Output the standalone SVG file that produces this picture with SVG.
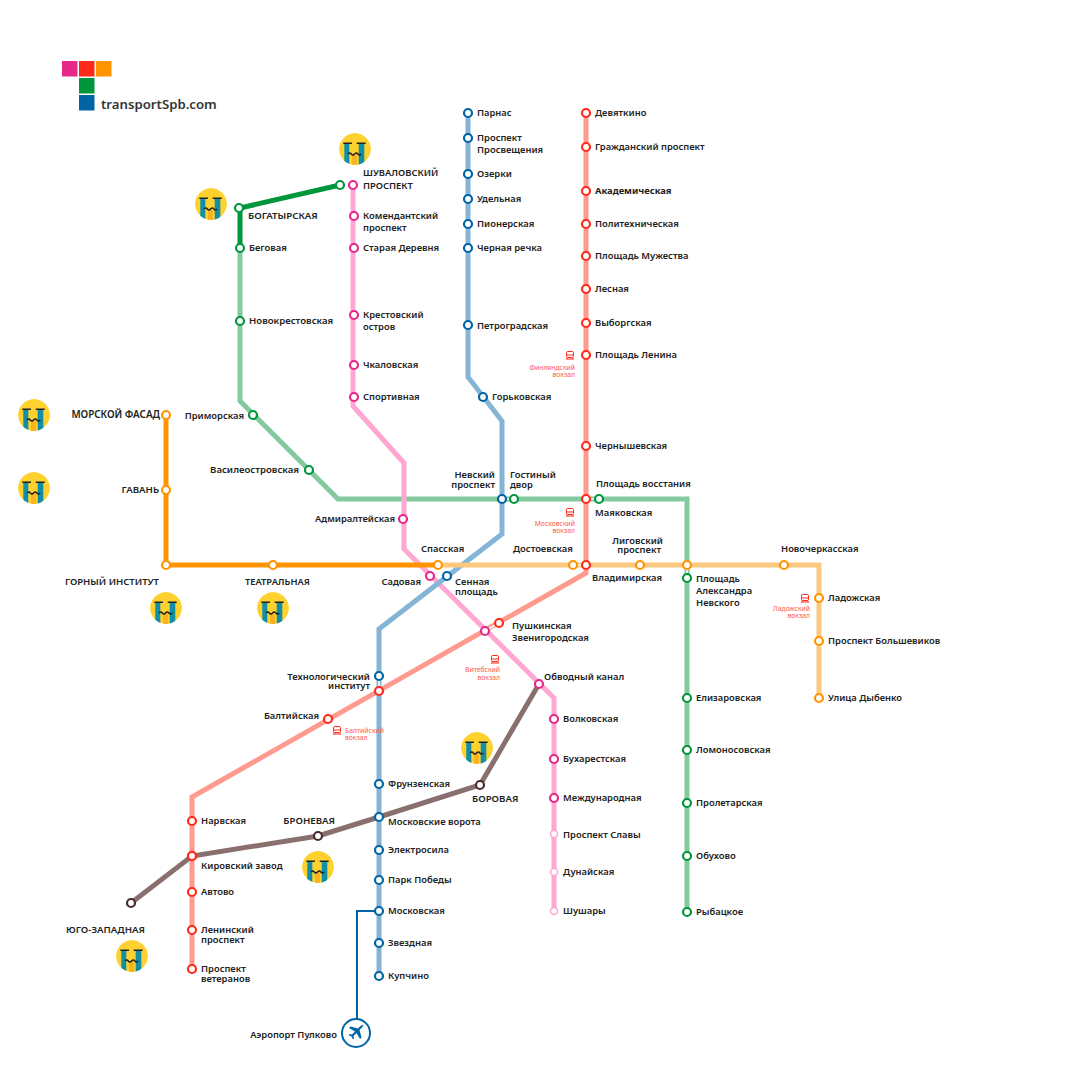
<svg xmlns="http://www.w3.org/2000/svg" width="1080" height="1080" viewBox="0 0 1080 1080">
<style>
text{font-family:"Noto Sans","Open Sans","Liberation Sans",sans-serif;font-size:9.400px;font-weight:600;fill:#222}
.u{font-size:9.700px}
.v{font-size:6.800px;font-weight:400;fill:#ff5a4a;text-anchor:end}
.e{text-anchor:end}
.line{fill:none;stroke-width:5;stroke-linejoin:miter}
circle.s{fill:#fff;stroke-width:2.200}
.g circle.s{stroke:#00963c}.p circle.s{stroke:#e5288a}.b circle.s{stroke:#0064a4}.r circle.s{stroke:#ff2a1a}.o circle.s{stroke:#ff9400}.k circle.s{stroke:#4a2c2c}.q circle.s{stroke:#ffa6d3}
.t{stroke:#fff;stroke-width:1.600;fill:none}
</style>
<defs>
<clipPath id="face"><circle r="16"/></clipPath>
<symbol id="cry" viewBox="-16 -16 32 32" overflow="visible">
<g clip-path="url(#face)">
<circle r="16" fill="#ffd12e"/>
<path d="M-7-16A16 16 0 0 0-7 16H-16V-16Z" fill="#f9b31f"/>
<rect x="-3" y="6" width="5" height="10" fill="#f9b31f"/>
<rect x="-10.700" y="-6" width="5" height="22" fill="#0f8fa8"/>
<rect x="3.700" y="-6" width="5.600" height="22" fill="#0f8fa8"/>
<path d="M-11.700-5.800H-3M1.700-5.800H10.700" stroke="#222" stroke-width="1.400" fill="none"/>
<path d="M-7 5q1.800-2 3.300 0t3.300 0t3.300 0t3.300 0" stroke="#222" stroke-width="1.500" fill="none"/>
</g>
</symbol>
<symbol id="train" viewBox="0 0 8 9" overflow="visible">
<rect x=".5" y=".5" width="7" height="6" rx="1.200" fill="none" stroke="#ff2a1a" stroke-width="1"/>
<path d="M.5 4H7.500" stroke="#ff2a1a" stroke-width="1"/>
<path d="M1.500 6.500L.5 8.500M6.500 6.500L7.500 8.500M.5 8H7.500" stroke="#ff2a1a" stroke-width="1" fill="none"/>
</symbol>
</defs>
<rect width="1080" height="1080" fill="#fff"/>
<g id="logo">
<rect x="62" y="61" width="15.500" height="15.500" fill="#e5288a"/>
<rect x="79" y="61" width="15.500" height="15.500" fill="#ff2a1a"/>
<rect x="96" y="61" width="15.500" height="15.500" fill="#ff9400"/>
<rect x="79" y="78" width="15.500" height="15.500" fill="#00963c"/>
<rect x="79" y="95" width="15.500" height="15.500" fill="#0064a4"/>
<text x="101" y="109" style="font-size:13.200px;fill:#333">transportSpb.com</text>
</g>
<g id="connectors">
<polyline class="line" stroke="#85c99e" points="240,248 240,401 338,499 687,499 687,912"/>
<polyline class="line" stroke="#00963c" points="240,248 240,208 340,185"/>
<polyline class="line" stroke="#ffa6d3" points="353,185 353,406 404,463 404,549 554,698 554,911"/>
<polyline class="line" stroke="#84b4d6" points="468,113 468,377 502,421 502,534 379,629 379,976"/>
<polyline class="line" stroke="#ff9a8e" points="586,113 586,573 192,797 192,969"/>
<polyline class="line" stroke="#ff9400" points="166,415 166,565 438,565"/>
<polyline class="line" stroke="#ffc87f" points="438,565 819,565 819,698"/>
<polyline class="line" stroke="#8a6f6f" points="131,903 192,856 318,836 379,817 480,785 539,684"/>
<polyline fill="none" stroke="#0064a4" stroke-width="2" points="379,911 357,911 357,1019"/>
<path class="t" d="M502 499H514M586 499H599M574 565H586M438 565L430 576M438 565L447 576M430 576H447M485 631L499 623M379 676V691M687 565V578"/>
</g>
<g id="cry-icons">
<use href="#cry" x="195" y="188" width="32" height="32"/>
<use href="#cry" x="339" y="133" width="32" height="32"/>
<use href="#cry" x="18" y="399" width="32" height="32"/>
<use href="#cry" x="18" y="472" width="32" height="32"/>
<use href="#cry" x="150" y="592" width="32" height="32"/>
<use href="#cry" x="257" y="592" width="32" height="32"/>
<use href="#cry" x="461" y="732" width="32" height="32"/>
<use href="#cry" x="302" y="851" width="32" height="32"/>
<use href="#cry" x="116" y="940" width="32" height="32"/>
</g>
<g id="green-line" class="g">
<g id="n-bogatyrskaya"><circle class="s" cx="239" cy="208" r="4"/><text class="u" x="248" y="219">БОГАТЫРСКАЯ</text></g>
<g id="n-shuv-g"><circle class="s" cx="340" cy="185" r="4"/></g>
<g id="n-begovaya"><circle class="s" cx="240" cy="248" r="4"/><text x="249" y="251">Беговая</text></g>
<g id="n-novokrest"><circle class="s" cx="240" cy="321" r="4"/><text x="249" y="324" style="font-size:9.600px">Новокрестовская</text></g>
<g id="n-primorskaya"><circle class="s" cx="253" cy="415" r="4"/><text class="e" x="244" y="419">Приморская</text></g>
<g id="n-vasileo"><circle class="s" cx="309" cy="470" r="4"/><text class="e" x="299" y="473" style="font-size:9.600px">Василеостровская</text></g>
<g id="n-gostiny"><circle class="s" cx="514" cy="499" r="4"/><text x="510" y="478">Гостиный</text><text x="510" y="488">двор</text></g>
<g id="n-mayak"><circle class="s" cx="599" cy="499" r="4"/><text x="595" y="516">Маяковская</text></g>
<g id="n-alnev-g"><circle class="s" cx="687" cy="578" r="4"/><text x="696" y="582">Площадь</text><text x="696" y="594">Александра</text><text x="696" y="606">Невского</text></g>
<g id="n-elizar"><circle class="s" cx="687" cy="698" r="4"/><text x="696" y="701">Елизаровская</text></g>
<g id="n-lomon"><circle class="s" cx="687" cy="750" r="4"/><text x="696" y="753">Ломоносовская</text></g>
<g id="n-prolet"><circle class="s" cx="687" cy="803" r="4"/><text x="696" y="806">Пролетарская</text></g>
<g id="n-obukhovo"><circle class="s" cx="687" cy="856" r="4"/><text x="696" y="859">Обухово</text></g>
<g id="n-rybatskoe"><circle class="s" cx="687" cy="912" r="4"/><text x="696" y="915">Рыбацкое</text></g>
</g>
<g id="pink-line" class="p">
<g id="n-shuv"><circle class="s" cx="353" cy="185" r="4"/><text x="363" y="176">ШУВАЛОВСКИЙ</text><text x="363" y="189">ПРОСПЕКТ</text></g>
<g id="n-komend"><circle class="s" cx="354" cy="216" r="4"/><text x="363" y="219">Комендантский</text><text x="363" y="231">проспект</text></g>
<g id="n-staraya"><circle class="s" cx="354" cy="248" r="4"/><text x="363" y="251">Старая Деревня</text></g>
<g id="n-krest"><circle class="s" cx="354" cy="315" r="4"/><text x="363" y="318">Крестовский</text><text x="363" y="330">остров</text></g>
<g id="n-chkal"><circle class="s" cx="354" cy="365" r="4"/><text x="363" y="368">Чкаловская</text></g>
<g id="n-sport"><circle class="s" cx="354" cy="397" r="4"/><text x="363" y="400">Спортивная</text></g>
<g id="n-admir"><circle class="s" cx="403" cy="519" r="4"/><text class="e" x="395" y="522">Адмиралтейская</text></g>
<g id="n-sadovaya"><circle class="s" cx="430" cy="576" r="4"/><text class="e" x="421" y="585">Садовая</text></g>
<g id="n-zvenig"><circle class="s" cx="485" cy="631" r="4"/><text x="512" y="641">Звенигородская</text></g>
<g id="n-obvod"><circle class="s" cx="539" cy="684" r="4"/><text x="544" y="680">Обводный канал</text></g>
<g id="n-volk"><circle class="s" cx="554" cy="719" r="4"/><text x="563" y="722">Волковская</text></g>
<g id="n-bukh"><circle class="s" cx="554" cy="759" r="4"/><text x="563" y="762">Бухарестская</text></g>
<g id="n-mezh"><circle class="s" cx="554" cy="798" r="4"/><text x="563" y="801">Международная</text></g>
</g>
<g id="pink-planned" class="q">
<g id="n-slavy"><circle class="s" cx="554" cy="834" r="3.500" style="stroke-width:1.500"/><text x="563" y="838">Проспект Славы</text></g>
<g id="n-dunay"><circle class="s" cx="554" cy="872" r="3.500" style="stroke-width:1.500"/><text x="563" y="875">Дунайская</text></g>
<g id="n-shushary"><circle class="s" cx="554" cy="911" r="3.500" style="stroke-width:1.500"/><text x="563" y="914">Шушары</text></g>
</g>
<g id="blue-line" class="b">
<g id="n-parnas"><circle class="s" cx="468" cy="113" r="4"/><text x="477" y="116">Парнас</text></g>
<g id="n-prosv"><circle class="s" cx="468" cy="138" r="4"/><text x="477" y="141">Проспект</text><text x="477" y="153">Просвещения</text></g>
<g id="n-ozerki"><circle class="s" cx="468" cy="174" r="4"/><text x="477" y="177">Озерки</text></g>
<g id="n-udel"><circle class="s" cx="468" cy="199" r="4"/><text x="477" y="202">Удельная</text></g>
<g id="n-pion"><circle class="s" cx="468" cy="224" r="4"/><text x="477" y="227">Пионерская</text></g>
<g id="n-chern"><circle class="s" cx="468" cy="248" r="4"/><text x="477" y="251">Черная речка</text></g>
<g id="n-petro"><circle class="s" cx="468" cy="325" r="4"/><text x="477" y="329">Петроградская</text></g>
<g id="n-gork"><circle class="s" cx="483" cy="397" r="4"/><text x="492" y="400">Горьковская</text></g>
<g id="n-nevsky"><circle class="s" cx="502" cy="499" r="4"/><text class="e" x="495" y="478">Невский</text><text class="e" x="495" y="488">проспект</text></g>
<g id="n-sennaya"><circle class="s" cx="447" cy="576" r="4"/><text x="455" y="585">Сенная</text><text x="455" y="595">площадь</text></g>
<g id="n-tekhn-b"><circle class="s" cx="379" cy="676" r="4"/><text class="e" x="370" y="680">Технологический</text><text class="e" x="370" y="689">институт</text></g>
<g id="n-frunz"><circle class="s" cx="379" cy="784" r="4"/><text x="388" y="787">Фрунзенская</text></g>
<g id="n-movor"><circle class="s" cx="379" cy="817" r="4"/><text x="388" y="825">Московские ворота</text></g>
<g id="n-elektro"><circle class="s" cx="379" cy="850" r="4"/><text x="388" y="853">Электросила</text></g>
<g id="n-park"><circle class="s" cx="379" cy="880" r="4"/><text x="388" y="883">Парк Победы</text></g>
<g id="n-moskov"><circle class="s" cx="379" cy="911" r="4"/><text x="388" y="914">Московская</text></g>
<g id="n-zvezd"><circle class="s" cx="379" cy="943" r="4"/><text x="388" y="946">Звездная</text></g>
<g id="n-kupch"><circle class="s" cx="379" cy="976" r="4"/><text x="388" y="979">Купчино</text></g>
</g>
<g id="red-line" class="r">
<g id="n-devyat"><circle class="s" cx="586" cy="113" r="4"/><text x="595" y="116">Девяткино</text></g>
<g id="n-grazh"><circle class="s" cx="586" cy="147" r="4"/><text x="595" y="150">Гражданский проспект</text></g>
<g id="n-akad"><circle class="s" cx="586" cy="191" r="4"/><text x="595" y="194" style="font-weight:700">Академическая</text></g>
<g id="n-polit"><circle class="s" cx="586" cy="224" r="4"/><text x="595" y="227">Политехническая</text></g>
<g id="n-muzh"><circle class="s" cx="586" cy="256" r="4"/><text x="595" y="259">Площадь Мужества</text></g>
<g id="n-lesn"><circle class="s" cx="586" cy="289" r="4"/><text x="595" y="292">Лесная</text></g>
<g id="n-vyb"><circle class="s" cx="586" cy="323" r="4"/><text x="595" y="326">Выборгская</text></g>
<g id="n-lenina"><circle class="s" cx="586" cy="355" r="4"/><text x="595" y="358">Площадь Ленина</text></g>
<g id="n-chern2"><circle class="s" cx="586" cy="446" r="4"/><text x="595" y="449">Чернышевская</text></g>
<g id="n-vosst"><circle class="s" cx="586" cy="499" r="4"/><text x="596" y="487">Площадь восстания</text></g>
<g id="n-vlad"><circle class="s" cx="586" cy="565" r="4"/><text x="592" y="581">Владимирская</text></g>
<g id="n-push"><circle class="s" cx="499" cy="623" r="4"/><text x="512" y="629">Пушкинская</text></g>
<g id="n-tekhn-r"><circle class="s" cx="379" cy="691" r="4"/></g>
<g id="n-balt"><circle class="s" cx="328" cy="719" r="4"/><text class="e" x="319" y="719">Балтийская</text></g>
<g id="n-narv"><circle class="s" cx="192" cy="821" r="4"/><text x="201" y="824">Нарвская</text></g>
<g id="n-kirov"><circle class="s" cx="192" cy="856" r="4"/><text x="201" y="869">Кировский завод</text></g>
<g id="n-avtovo"><circle class="s" cx="192" cy="892" r="4"/><text x="201" y="895">Автово</text></g>
<g id="n-lenpr"><circle class="s" cx="192" cy="930" r="4"/><text x="201" y="933">Ленинский</text><text x="201" y="943">проспект</text></g>
<g id="n-vet"><circle class="s" cx="192" cy="969" r="4"/><text x="201" y="972">Проспект</text><text x="201" y="982">ветеранов</text></g>
</g>
<g id="orange-line" class="o">
<g id="n-morsk"><circle class="s" cx="166" cy="415" r="4"/><text class="e" x="160" y="418" style="font-size:9.900px">МОРСКОЙ ФАСАД</text></g>
<g id="n-gavan"><circle class="s" cx="166" cy="490" r="4"/><text class="e u" x="159" y="493">ГАВАНЬ</text></g>
<g id="n-gorny"><circle class="s" cx="166" cy="565" r="4"/><text class="e" x="159" y="585" style="font-size:9.500px">ГОРНЫЙ ИНСТИТУТ</text></g>
<g id="n-teatr"><circle class="s" cx="273" cy="565" r="4"/><text x="245" y="585" style="font-size:9.300px">ТЕАТРАЛЬНАЯ</text></g>
<g id="n-spass"><circle class="s" cx="438" cy="565" r="4"/><text x="421" y="552">Спасская</text></g>
<g id="n-dost"><circle class="s" cx="573" cy="565" r="4"/><text x="513" y="552">Достоевская</text></g>
<g id="n-ligov"><circle class="s" cx="640" cy="565" r="4"/><text x="663" y="544" text-anchor="end">Лиговский</text><text x="661" y="553" text-anchor="end">проспект</text></g>
<g id="n-alnev-o"><circle class="s" cx="687" cy="565" r="4"/></g>
<g id="n-novoch"><circle class="s" cx="784" cy="565" r="4"/><text x="781" y="552">Новочеркасская</text></g>
<g id="n-ladozh"><circle class="s" cx="819" cy="598" r="4"/><text x="828" y="601">Ладожская</text></g>
<g id="n-bolsh"><circle class="s" cx="819" cy="641" r="4"/><text x="828" y="644">Проспект Большевиков</text></g>
<g id="n-dybenko"><circle class="s" cx="819" cy="698" r="4"/><text x="828" y="701">Улица Дыбенко</text></g>
</g>
<g id="brown-line" class="k">
<g id="n-yugo"><circle class="s" cx="131" cy="903" r="4"/><text class="e u" x="145" y="933">ЮГО-ЗАПАДНАЯ</text></g>
<g id="n-kirov-k"><circle class="s" cx="192" cy="856" r="4" style="stroke:#ff2a1a"/></g>
<g id="n-bronev"><circle class="s" cx="318" cy="836" r="4"/><text class="e u" x="335" y="824">БРОНЕВАЯ</text></g>
<g id="n-borov"><circle class="s" cx="480" cy="785" r="4"/><text class="u" x="472" y="802">БОРОВАЯ</text></g>
</g>
<g id="airport">
<circle cx="356" cy="1033" r="14" fill="#fff" stroke="#0064a4" stroke-width="2"/>
<path d="M364 1025.500c-1-1-2.500-.500-3.500.500l-2.500 2.500-7.500-2-1.500 1.500 6 3.500-3 3-2.500-.500-1 1 3 1.500 1.500 3 1-1-.500-2.500 3-3 3.500 6 1.500-1.500-2-7.500 2.500-2.500c1-1 1.500-2.500.500-3.500z" fill="#0064a4"/>
<text class="e" x="337" y="1038">Аэропорт Пулково</text>
</g>
<g id="railway-stations">
<g id="v-fin"><use href="#train" x="566" y="351" width="8" height="9"/><text class="v" x="575" y="370">Финляндский</text><text class="v" x="575" y="377">вокзал</text></g>
<g id="v-mos"><use href="#train" x="566" y="508" width="8" height="9"/><text class="v" x="575" y="526">Московский</text><text class="v" x="575" y="533">вокзал</text></g>
<g id="v-vit"><use href="#train" x="491" y="655" width="8" height="9"/><text class="v" x="500" y="672">Витебский</text><text class="v" x="500" y="680">вокзал</text></g>
<g id="v-balt"><use href="#train" x="333" y="726" width="8" height="9"/><text class="v" x="345" y="733" style="text-anchor:start">Балтийский</text><text class="v" x="345" y="740" style="text-anchor:start">вокзал</text></g>
<g id="v-lad"><use href="#train" x="801" y="594" width="8" height="9"/><text class="v" x="810" y="611">Ладожский</text><text class="v" x="810" y="618">вокзал</text></g>
</g>
</svg>
